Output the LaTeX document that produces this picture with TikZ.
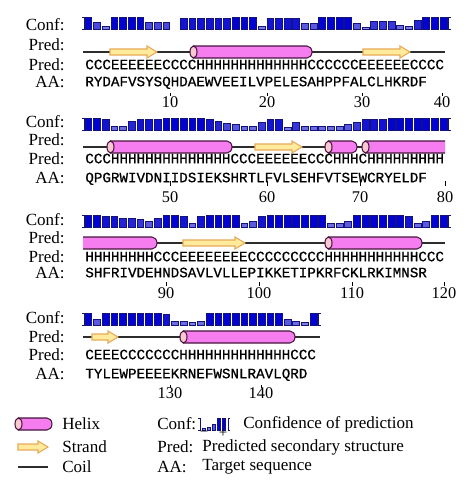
\documentclass[tikz,border=0pt]{standalone}
\usepackage{fontspec}
\setmainfont{Liberation Serif}
\newfontfamily\seqfont{Liberation Mono}[FakeBold=0.8]
\usepackage{tikz}
\definecolor{confhi}{RGB}{0,0,210}
\definecolor{conflo}{RGB}{160,160,235}
\definecolor{confline}{RGB}{20,20,120}
\definecolor{helixpink}{RGB}{245,125,240}
\definecolor{helixend}{RGB}{250,200,210}
\definecolor{helixline}{RGB}{70,20,60}
\definecolor{strandfill}{RGB}{255,235,155}
\definecolor{strandline}{RGB}{230,170,90}
\definecolor{coilgray}{RGB}{45,45,45}
\tikzset{
  rowlabel/.style={anchor=east, inner sep=0pt, font=\fontsize{9.7}{11}\selectfont},
  seq/.style={anchor=west, inner sep=0pt, text height=4.8pt, text depth=0pt, font=\seqfont\fontsize{8.1}{9}\selectfont},
  resnum/.style={inner sep=0pt, font=\fontsize{9.3}{11}\selectfont},
  legsign/.style={inner sep=0pt, text height=3pt, text depth=0pt, font=\fontsize{8.5}{9}\selectfont},
  legtext/.style={anchor=west, inner sep=0pt, font=\fontsize{9.7}{11}\selectfont},
  coil/.style={draw=coilgray, line width=0.6pt},
  helixbody/.style={draw=helixline, fill=helixpink, line width=0.6pt},
  helixcap/.style={draw=helixline, fill=helixend, line width=0.6pt},
  strandbody/.style={draw=strandline, fill=strandfill, line width=0.6pt},
  confbar/.style={draw=confline, line width=0.4pt},
  numtick/.style={line width=0.5pt}
}
% helix: x1, x2, y
\newcommand{\drawhelix}[3]{%
  \draw[helixbody] ({#1+3.5},{#3-6}) -- ({#2-5},{#3-6})
    arc[start angle=90, end angle=-90, x radius=0.1cm, y radius=0.12cm]
    -- ({#1+3.5},{#3+6}) -- cycle;
  \draw[helixcap] ({#1+3.5},#3) ellipse [x radius=0.07cm, y radius=0.12cm];
}
% strand: x1, x2, y
\newcommand{\drawstrand}[3]{%
  \draw[strandbody] ({#1},{#3-3}) -- ({#2-10},{#3-3}) -- ({#2-10},{#3-6}) -- ({#2},#3)
    -- ({#2-10},{#3+6}) -- ({#2-10},{#3+3}) -- ({#1},{#3+3}) -- cycle;
}
% confidence row: bottom y, heights
\newcommand{\confrow}[2]{%
  \foreach \h [count=\i from 0] in {#2} {
    \ifnum\h>0
      \pgfmathtruncatemacro\barmix{\h*11}
      \draw[confbar, fill=confhi!\barmix!conflo] ({85+\i*8.66},#1) rectangle ++(6.8,{-1.3*\h});
    \fi
  }
}

\begin{document}
\begin{tikzpicture}[x=0.02cm, y=-0.02cm]
  \useasboundingbox[fill=white] (0,0) rectangle (474,494);

  % row labels
  \foreach \blk/\yc/\yp/\yq/\ya in {1/25/45/65/82, 2/122/140/159/178, 3/220/238/257/273, 4/318/337/355/374} {
    \node[rowlabel] (conf\blk) at (65,\yc) {Conf:};
    \node[rowlabel] (predA\blk) at (65,\yp) {Pred:};
    \node[rowlabel] (predB\blk) at (65,\yq) {Pred:};
    \node[rowlabel] (aa\blk) at (65,\ya) {AA:};
  }

  % confidence bars
  \confrow{29}{9,5,2,9,9,9,9,5,5,5,0,8,8,8,8,8,8,9,9,9,2,8,8,8,8,4,4,9,9,9,9,4,1,6,6,6,3,2,7,9,9,9}
  \confrow{130}{9,9,8,3,3,7,8,8,8,9,9,9,9,9,8,7,5,4,3,3,6,8,8,2,6,3,3,3,3,3,4,6,8,8,8,9,9,9,9,9,9,9}
  \confrow{227}{9,9,8,8,7,7,6,4,7,9,9,8,3,8,9,9,9,9,3,4,8,9,9,9,9,9,9,9,3,3,4,9,9,9,9,9,9,8,3,4,9,9}
  \confrow{325}{9,4,9,9,9,9,9,9,9,8,3,3,2,3,9,9,9,9,9,9,9,9,9,4,3,2,9}
  \foreach \yb/\xe in {29/448.5, 130/448.5, 227/448.5, 325/318.5} {
    \draw[confbar] (82,\yb-11.7) -- (84,\yb-11.7) -- (84,\yb) -- (82,\yb);
    \draw[confbar] (\xe+2.5,\yb-11.7) -- (\xe,\yb-11.7) -- (\xe,\yb) -- (\xe+2.5,\yb);
  }

  % secondary structure cartoons
  \draw[coil] (83,52) -- (445,52);
  \draw[coil] (83,147) -- (445,147);
  \draw[coil] (83,243) -- (445,243);
  \draw[coil] (83,337) -- (320,337);
  \begin{scope}
    \clip (83,0) rectangle (445,400);
    \drawstrand{110}{157}{52}
    \drawhelix{190}{312}{52}
    \drawstrand{363}{410}{52}
    \drawhelix{107}{232}{147}
    \drawstrand{255}{302}{147}
    \drawhelix{325}{357}{147}
    \drawhelix{362}{455}{147}
    \drawhelix{70}{157}{243}
    \drawstrand{183}{245}{243}
    \drawhelix{325}{422}{243}
    \drawstrand{92}{118}{337}
    \drawhelix{180}{295}{337}
  \end{scope}

  % predicted states and sequence
  \node[seq] (ss1) at (85,65) {CCCEEEEEECCCCHHHHHHHHHHHHHCCCCCCEEEEEECCCC};
  \node[seq] (res1) at (85,82) {RYDAFVSYSQHDAEWVEEILVPELESAHPPFALCLHKRDF};
  \node[seq] (ss2) at (85,159) {CCCHHHHHHHHHHHHHHCCCEEEEEECCCHHHCHHHHHHHHH};
  \node[seq] (res2) at (85,178) {QPGRWIVDNIIDSIEKSHRTLFVLSEHFVTSEWCRYELDF};
  \node[seq] (ss3) at (85,257) {HHHHHHHHCCCEEEEEEEECCCCCCCCCHHHHHHHHHHHCCC};
  \node[seq] (res3) at (85,273) {SHFRIVDEHNDSAVLVLLEPIKKETIPKRFCKLRKIMNSR};
  \node[seq] (ss4) at (85,355) {CEEECCCCCCCHHHHHHHHHHHHHCCC};
  \node[seq] (res4) at (85,374) {TYLEWPEEEEKRNEFWSNLRAVLQRD};

  % residue numbers
  \foreach \n/\x/\y/\ta/\tb in {10/170/102/92.5/96, 20/267/102/92.5/96, 30/362/102/92.5/96, 40/442/102/92.5/96,
      50/170/197/181/186, 60/267/197/181/186, 70/360/197/181/186, 80/445/197/181/186,
      90/166/293/282/286, 100/259/293/282/286, 110/352/293/282/286, 120/444/293/282/286,
      130/170/393/385/388, 140/261/393/385/388} {
    \node[resnum] (num\n) at (\x,\y) {\n};
    \draw[numtick] (\x,\ta) -- (\x,\tb);
  }

  % legend
  \drawhelix{15}{52}{424}
  \drawstrand{18}{48}{447}
  \draw[coil] (18,467) -- (48,467);
  \node[legtext] (lhelix) at (62,424) {Helix};
  \node[legtext] (lstrand) at (62,447) {Strand};
  \node[legtext] (lcoil) at (62,467) {Coil};

  \node[legtext] (lconf) at (157,424) {Conf:};
  \node[legtext] (lpred) at (157,447) {Pred:};
  \node[legtext] (laa) at (157,467) {AA:};
  \foreach \h [count=\i from 0] in {1,2,4,9,9} {
    \pgfmathtruncatemacro\barmix{\h*11}
    \draw[confbar, fill=confhi!\barmix!conflo] ({202+\i*5},430) rectangle ++(3.5,{-1.3*\h});
  }
  \draw[confbar] (198,418.3) -- (200,418.3) -- (200,430) -- (198,430);
  \draw[confbar] (230,418.3) -- (228,418.3) -- (228,430) -- (230,430);
  \node[legsign] (lminus) at (204,433.5) {−};
  \node[legsign] (lplus) at (223,434.5) {+};
  \node[legtext] (dconf) at (243,424) {Confidence of prediction};
  \node[legtext] (dpred) at (202,447.5) {Predicted secondary structure};
  \node[legtext] (daa) at (202,467) {Target sequence};
\end{tikzpicture}
\end{document}
